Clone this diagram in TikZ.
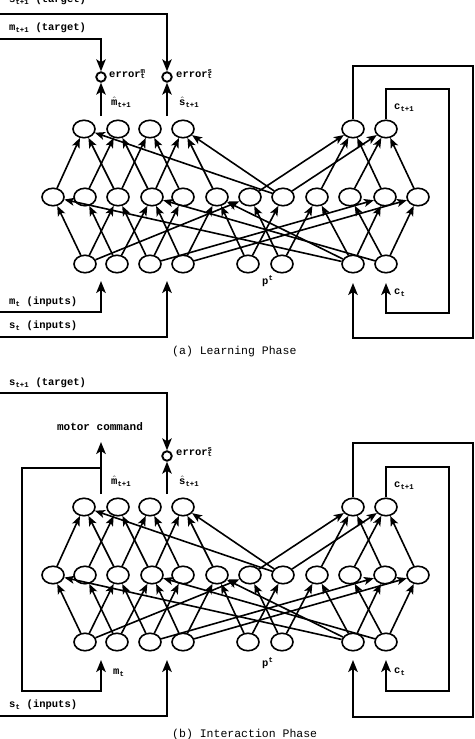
\documentclass[tikz,border=0pt]{standalone}
\usepackage{fontspec}
\setmonofont{Liberation Mono}
\usetikzlibrary{arrows.meta,shapes.geometric}
\newcommand\drawnet{%
  \foreach \n/\x in {1/84,2/118,3/150,4/183,5/353,6/386}
    \node[neuron] (O\n) at (\x,129) {};
  \foreach \n/\x in {1/53,2/85,3/118,4/152,5/183,6/217,7/250,8/283,9/317,10/350,11/385,12/418}
    \node[neuron] (H\n) at (\x,197) {};
  \foreach \n/\x in {1/85,2/117,3/150,4/183,5/248,6/282,7/353,8/386}
    \node[neuron] (I\n) at (\x,264) {};
  \foreach \a/\b in {1/1,3/1,8/1,2/2,4/2,3/3,5/3,4/4,6/4,8/4,7/5,9/5,11/5,8/6,10/6,12/6}
    \draw[earr] (H\a) -- (O\b);
  \foreach \a/\b in {1/1,1/3,1/7,2/2,2/4,3/3,3/5,3/11,4/4,4/6,4/12,5/6,5/8,6/7,6/9,7/9,7/11,7/1,7/6,8/10,8/12,8/4}
    \draw[earr] (I\a) -- (H\b);
}
\begin{document}
\begin{tikzpicture}[x=1pt,y=-1pt,
  neuron/.style={ellipse, draw, line width=1.6pt, minimum width=22pt, minimum height=17.5pt, inner sep=0pt, fill=white},
  earr/.style={line width=1.6pt, -{Stealth[length=10pt,width=8pt,inset=2.5pt]}},
  arr/.style={line width=1.9pt, -{Stealth[length=12pt,width=9.5pt,inset=3pt]}},
  errc/.style={circle, draw, line width=1.9pt, minimum size=9.5pt, inner sep=0pt, fill=white},
  lbl/.style={font=\ttfamily\bfseries\fontsize{10.5pt}{12pt}\selectfont, inner sep=0pt, anchor=west},
  captext/.style={font=\ttfamily\fontsize{11.5pt}{13pt}\selectfont, inner sep=0pt, anchor=west}]
\useasboundingbox (0,0) rectangle (474,739);
\fill[white] (0,0) rectangle (474,739);

% ---------------- panel (a)
\begin{scope}[name prefix=a-]
  \drawnet
\end{scope}
\node[errc] (ea1) at (101,77) {};
\node[errc] (ea2) at (167,77) {};
\coordinate (sa0) at (0,14);
\coordinate (ma0) at (0,39);
\draw[arr] (sa0) -| (ea2);
\draw[arr] (ma0) -| (ea1);
\coordinate (mao) at (101,116);
\coordinate (sao) at (167,116);
\draw[arr] (mao) -- (ea1);
\draw[arr] (sao) -- (ea2);
\coordinate (mai0) at (0,312);
\coordinate (mai1) at (101,281);
\draw[arr] (mai0) -| (mai1);
\coordinate (sai0) at (0,337);
\coordinate (sai1) at (167,281);
\draw[arr] (sai0) -| (sai1);
\coordinate (a-c1) at (353,283);
\coordinate (a-c2) at (386,283);
\draw[arr] (a-O5.north) |- (473,66) |- (353,338) -- (a-c1);
\draw[arr] (a-O6.north) |- (449,89) |- (386,313) -- (a-c2);

\node[lbl] (tsa) at (9,0) {s\textsubscript{t+1} (target)};
\node[lbl] (tma) at (9,28) {m\textsubscript{t+1} (target)};
\node[lbl] (era1) at (109,74) {error\rlap{\textsuperscript{m}}\textsubscript{t}};
\node[lbl] (era2) at (176,74) {error\rlap{\textsuperscript{s}}\textsubscript{t}};
\node[lbl] (hma) at (111,102) {$\hat{\hbox{m}}$\textsubscript{t+1}};
\node[lbl] (hsa) at (179,102) {$\hat{\hbox{s}}$\textsubscript{t+1}};
\node[lbl] (cta1) at (394,108) {c\textsubscript{t+1}};
\node[lbl] (cta) at (394,293) {c\textsubscript{t}};
\node[lbl] (pa) at (262,281) {p\textsuperscript{t}};
\node[lbl] (mia) at (9,302) {m\textsubscript{t} (inputs)};
\node[lbl] (sia) at (9,326) {s\textsubscript{t} (inputs)};
\node[captext] (capa) at (172,352) {(a) Learning Phase};

% ---------------- panel (b)
\begin{scope}[yshift=-378pt, name prefix=b-]
  \drawnet
\end{scope}
\node[errc] (eb) at (167,456) {};
\coordinate (sb0) at (0,393);
\draw[arr] (sb0) -| (eb);
\coordinate (sbo) at (167,494);
\draw[arr] (sbo) -- (eb);
\coordinate (mbo) at (101,494);
\coordinate (mbt) at (101,442);
\draw[arr] (mbo) -- (mbt);
\coordinate (mbj) at (101,468);
\coordinate (mbi) at (101,660);
\draw[arr] (mbj) -- (22,468) -- (22,691) -| (mbi);
\coordinate (sbi0) at (0,716);
\coordinate (sbi) at (167,660);
\draw[arr] (sbi0) -| (sbi);
\coordinate (b-c1) at (353,660);
\coordinate (b-c2) at (386,660);
\draw[arr] (b-O5.north) |- (473,443) |- (353,717) -- (b-c1);
\draw[arr] (b-O6.north) |- (449,467) |- (386,691) -- (b-c2);

\node[lbl] (tsb) at (9,383) {s\textsubscript{t+1} (target)};
\node[lbl, anchor=center, font=\ttfamily\bfseries\fontsize{11pt}{13pt}\selectfont] (mcb) at (100,427) {motor command};
\node[lbl] (erb) at (176,452) {error\rlap{\textsuperscript{s}}\textsubscript{t}};
\node[lbl] (hmb) at (111,481) {$\hat{\hbox{m}}$\textsubscript{t+1}};
\node[lbl] (hsb) at (179,481) {$\hat{\hbox{s}}$\textsubscript{t+1}};
\node[lbl] (ctb1) at (394,486) {c\textsubscript{t+1}};
\node[lbl] (ctb) at (394,672) {c\textsubscript{t}};
\node[lbl] (pb) at (262,663) {p\textsuperscript{t}};
\node[lbl] (mib) at (113,673) {m\textsubscript{t}};
\node[lbl] (sib) at (9,705) {s\textsubscript{t} (inputs)};
\node[captext] (capb) at (172,735) {(b) Interaction Phase};
\end{tikzpicture}
\end{document}
